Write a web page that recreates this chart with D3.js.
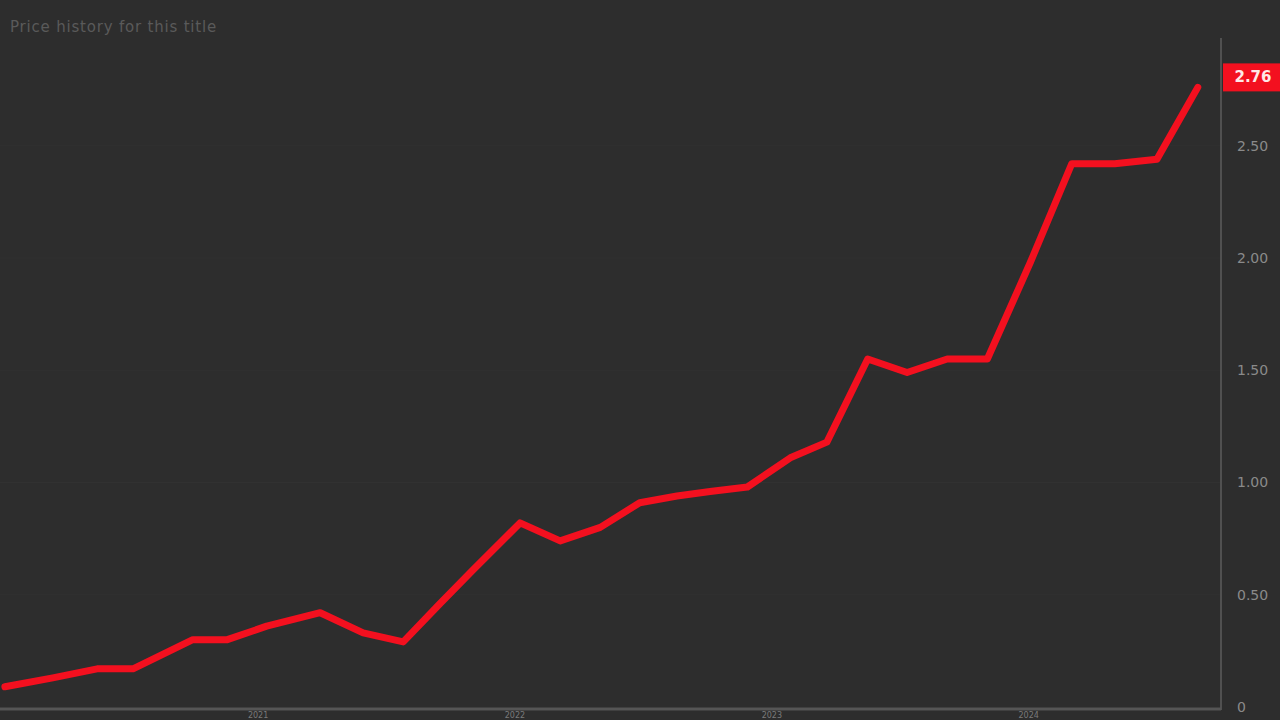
<!DOCTYPE html>
<html>
<head>
<meta charset="utf-8">
<script src="https://cdn.jsdelivr.net/npm/d3@7"></script>
<style>
  html, body { margin: 0; padding: 0; background: #2d2d2d; overflow: hidden; }
  svg { display: block; }
</style>
</head>
<body>
<svg id="chart" width="1280" height="720"></svg>
<script>
// ---- data ----
const title = "Price history for this title";
const dates = ["2020-01-08","2020-03-16","2020-05-18","2020-07-08","2020-10-01","2020-11-19",
  "2021-01-14","2021-03-31","2021-05-31","2021-07-27","2021-09-17","2021-11-03",
  "2022-01-09","2022-03-07","2022-05-03","2022-06-28","2022-08-20","2022-10-06","2022-11-28",
  "2023-01-28","2023-03-21","2023-05-18","2023-07-13","2023-09-08","2023-11-04",
  "2024-01-04","2024-03-03","2024-05-03","2024-07-02","2024-08-29"];
const prices = [0.09,0.13,0.17,0.17,0.30,0.30,0.36,0.42,0.33,0.29,0.46,0.61,
  0.82,0.74,0.80,0.91,0.94,0.96,0.98,1.11,1.18,1.55,1.49,1.55,1.55,
  1.98,2.42,2.42,2.44,2.76];
const yTicks = [0, 0.5, 1.0, 1.5, 2.0, 2.5];
const yTickLabels = ["0", "0.50", "1.00", "1.50", "2.00", "2.50"];
const xTickYears = ["2021", "2022", "2023", "2024"];

// ---- layout ----
const W = 1280, H = 720;
const plot = { left: 0, right: 1221, top: 38, bottom: 707 };
const parse = d3.timeParse("%Y-%m-%d");
const data = dates.map((d, i) => ({ date: parse(d), value: prices[i] }));

const x = d3.scaleTime()
  .domain([parse("2020-01-01"), parse("2024-10-01")])
  .range([plot.left, plot.right]);
const y = d3.scaleLinear()
  .domain([0, 2.98])
  .range([plot.bottom, plot.top]);

const svg = d3.select("#chart");
svg.append("rect").attr("width", W).attr("height", H).attr("fill", "#2d2d2d");

// faint grid
svg.append("g").selectAll("line").data(yTicks.slice(1)).join("line")
  .attr("x1", plot.left).attr("x2", plot.right)
  .attr("y1", d => y(d)).attr("y2", d => y(d))
  .attr("stroke", "#313131").attr("stroke-width", 1);

// title
svg.append("text").attr("x", 10).attr("y", 32)
  .attr("font-family", "DejaVu Sans, sans-serif").attr("font-size", 15)
  .attr("letter-spacing", 0.8)
  .attr("fill", "#5a5a5a").text(title);

// right y axis
const yAxis = d3.axisRight(y).tickValues(yTicks)
  .tickFormat((d, i) => yTickLabels[i]).tickSize(0).tickPadding(16);
const gy = svg.append("g").attr("transform", `translate(${plot.right},0)`).call(yAxis);
gy.select(".domain").attr("stroke", "#505050").attr("stroke-width", 2)
  .attr("d", `M0,${plot.top}V${plot.bottom + 3}`);
gy.selectAll("text").attr("fill", "#8a8a8a").attr("font-size", 14)
  .attr("font-family", "DejaVu Sans, sans-serif");

// bottom x axis (small labels squeezed under the axis line)
const xAxis = d3.axisBottom(x)
  .tickValues(xTickYears.map(yr => parse(yr + "-01-01")))
  .tickFormat(d3.timeFormat("%Y")).tickSize(0).tickPadding(3);
const gx = svg.append("g").attr("transform", `translate(0,${plot.bottom + 2})`).call(xAxis);
gx.select(".domain").attr("stroke", "#555").attr("stroke-width", 3)
  .attr("d", `M${plot.left},0H${plot.right}`);
gx.selectAll("text").attr("fill", "#7a7a7a").attr("font-size", 8)
  .attr("font-family", "DejaVu Sans, sans-serif");

// line
const line = d3.line().x(d => x(d.date)).y(d => y(d.value));
svg.append("path").datum(data)
  .attr("d", line)
  .attr("fill", "none")
  .attr("stroke", "#f3101f")
  .attr("stroke-width", 7)
  .attr("stroke-linejoin", "round")
  .attr("stroke-linecap", "round");

// last value badge
const last = data[data.length - 1];
const by = y(last.value) - 10;
const badge = svg.append("g").attr("transform", `translate(${plot.right + 2},${by})`);
badge.append("rect").attr("x", 0).attr("y", -14).attr("width", W - plot.right).attr("height", 28)
  .attr("fill", "#f3101f");
badge.append("text").attr("x", 30).attr("y", 5).attr("text-anchor", "middle")
  .attr("font-family", "DejaVu Sans, sans-serif").attr("font-size", 15).attr("font-weight", "bold")
  .attr("fill", "#ffe8e8").text(d3.format(".2f")(last.value));
</script>
</body>
</html>
